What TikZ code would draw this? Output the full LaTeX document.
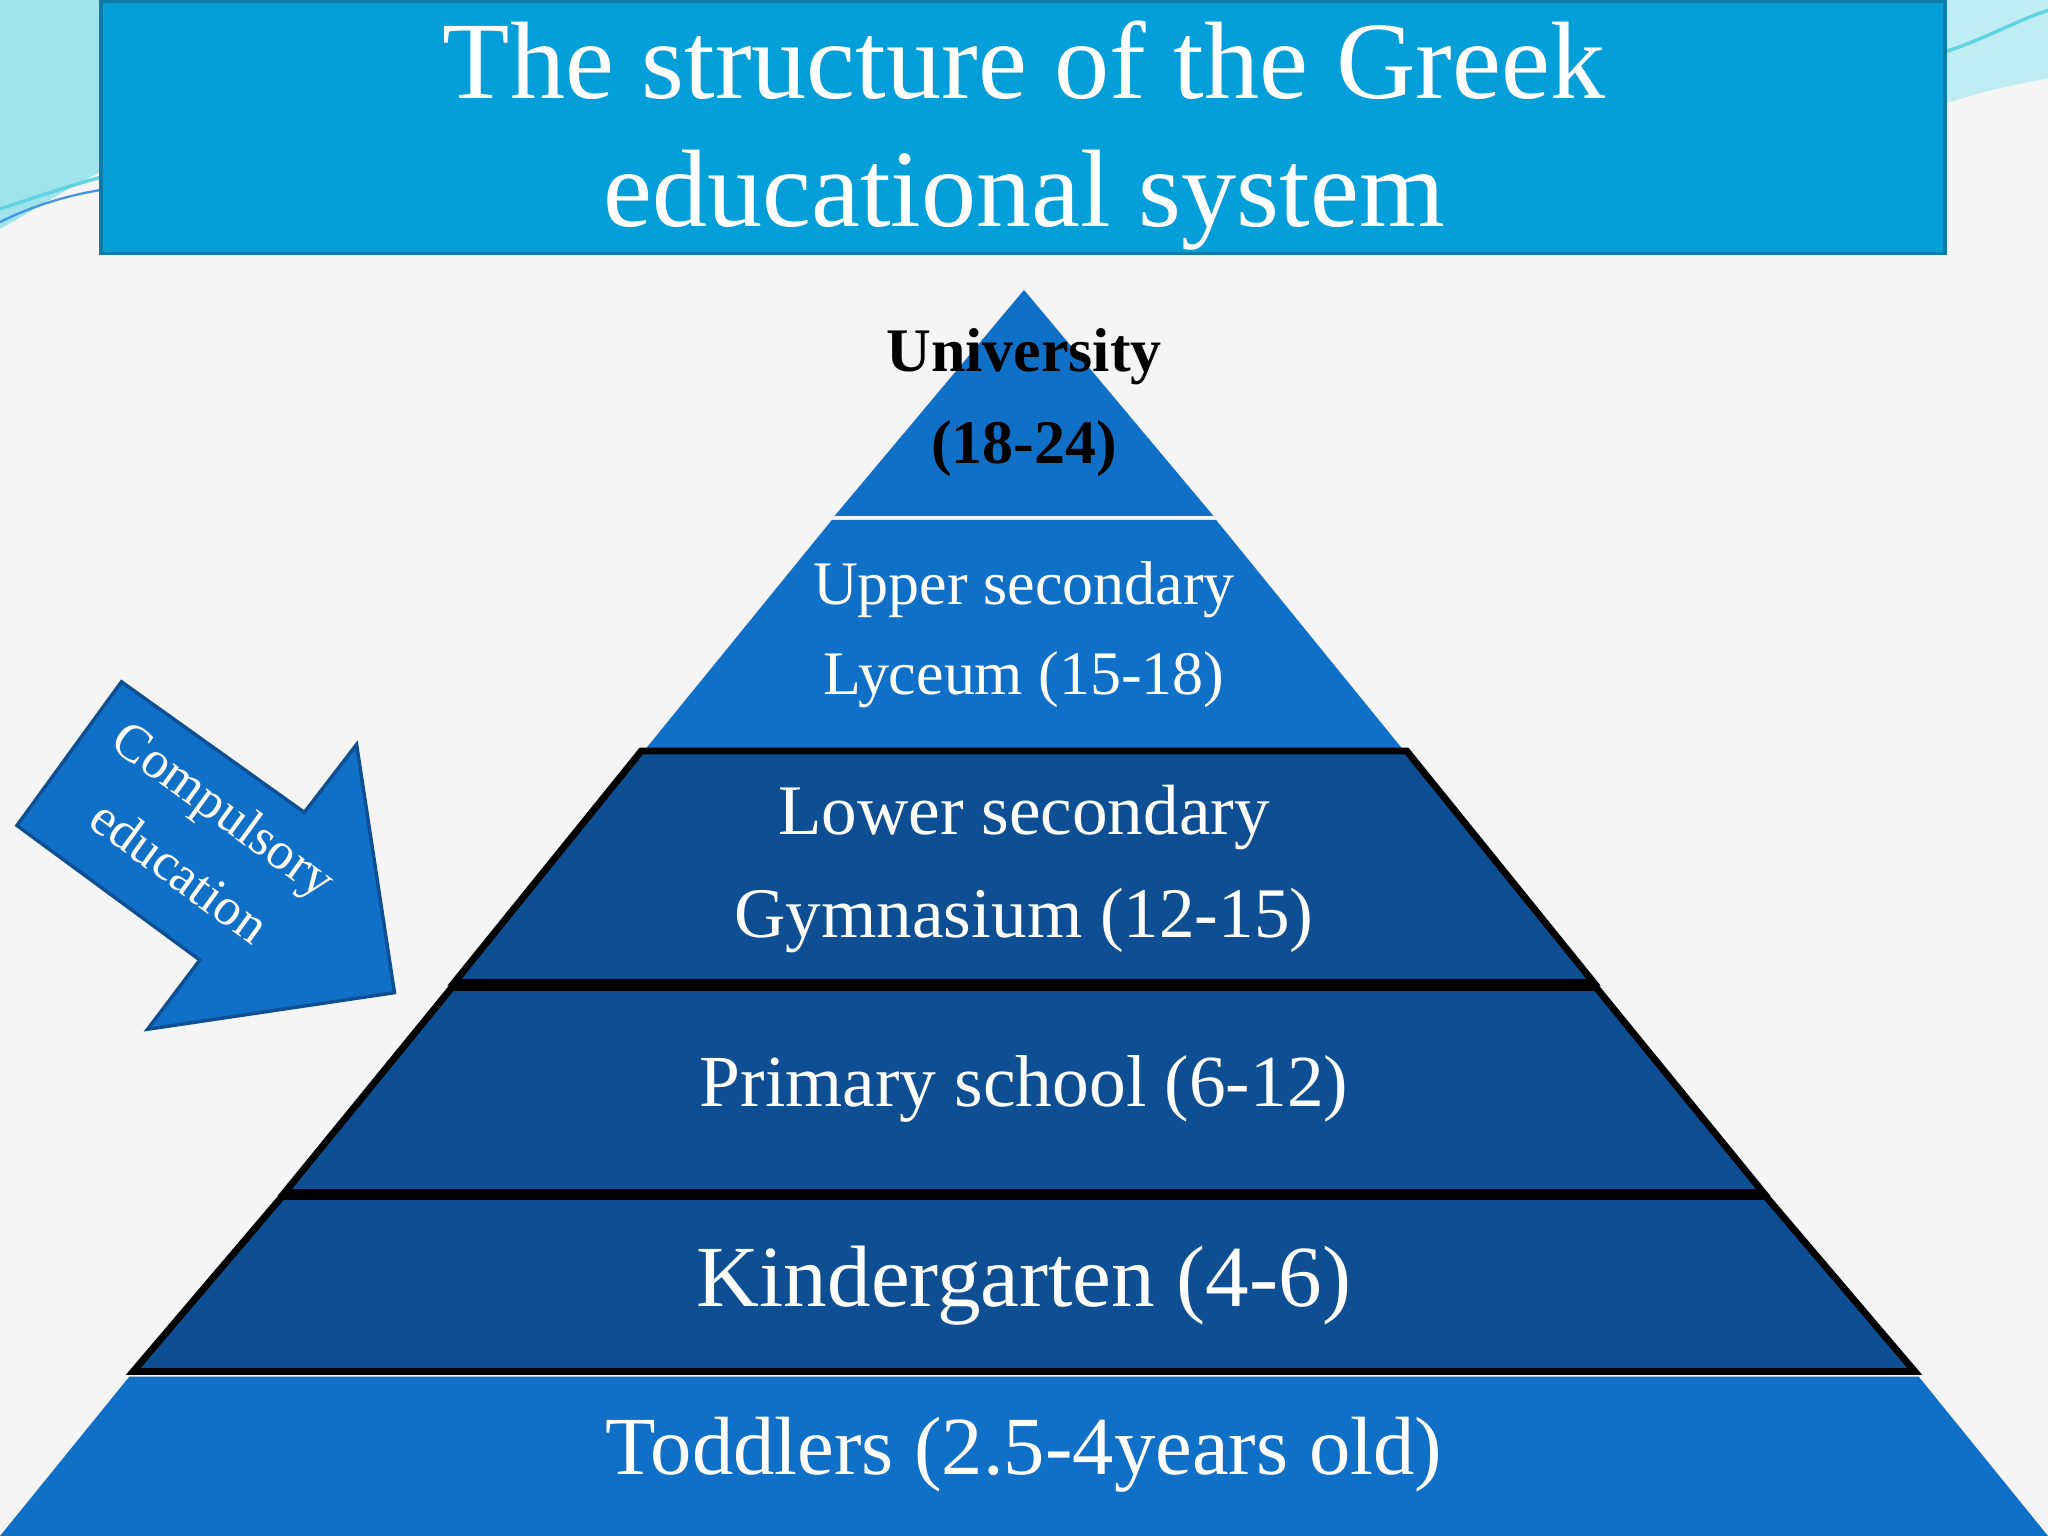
\documentclass[tikz,border=0pt]{standalone}
\usepackage{fontspec}
\setmainfont{Liberation Serif}
\definecolor{bg}{HTML}{F5F5F5}
\definecolor{titlec}{HTML}{049ED8}
\definecolor{titleb}{HTML}{0F7BA8}
\definecolor{lightb}{HTML}{106FC7}
\definecolor{darkb}{HTML}{0E4F93}
\definecolor{teal}{HTML}{5FD3E0}
\tikzset{lab/.style={text=white,align=center,font=\fontsize{#1}{\dimexpr#1pt*145/100\relax}\selectfont}}
\begin{document}
\begin{tikzpicture}[x=0.02cm,y=-0.02cm]
\fill[bg] (0,0) rectangle (1568,1176);
\useasboundingbox (0,0) rectangle (1568,1176);
% decorations
\fill[teal!60] (0,0) -- (80,0) -- (80,130) .. controls (40,150) and (20,165) .. (0,175) -- cycle;
\draw[teal,line width=1.5] (0,160) .. controls (30,150) and (60,140) .. (80,135);
\draw[teal!70!blue,line width=1] (0,170) .. controls (30,155) and (60,148) .. (80,145);
\fill[teal!40] (1488,0) -- (1568,0) -- (1568,60) .. controls (1540,65) and (1510,72) .. (1488,80) -- cycle;
\draw[teal,line width=1.5] (1488,40) .. controls (1520,30) and (1545,15) .. (1568,8);
% title
\node[draw=titleb,line width=1.5,fill=titlec,minimum width=28.24cm,minimum height=3.86cm,anchor=north west,inner sep=0] (title) at (76,0) {};
\node[text=white,align=center,font=\fontsize{48}{56}\selectfont] (tt) at (784,104) {The structure of the Greek\\educational system};
% pyramid bands
\fill[lightb] (784,222) -- (929,395) -- (639,395) -- cycle;
\fill[lightb] (637,398) -- (931,398) -- (1075,575) -- (493,575) -- cycle;
\fill[darkb,draw=black,line width=3] (491,575) -- (1077,575) -- (1220,752) -- (348,752) -- cycle;
\fill[darkb,draw=black,line width=3] (346,756) -- (1222,756) -- (1350,913) -- (218,913) -- cycle;
\fill[darkb,draw=black,line width=3] (216,916) -- (1352,916) -- (1466,1050) -- (102,1050) -- cycle;
\fill[lightb] (99,1054) -- (1469,1054) -- (1568,1176) -- (0,1176) -- cycle;
% labels
\node[align=center,font=\bfseries\fontsize{27}{40}\selectfont] (uni) at (784,308) {University\\(18-24)};
\node[lab=27] (up) at (784,486) {Upper secondary\\Lyceum (15-18)};
\node[lab=31] (low) at (784,665) {Lower secondary\\Gymnasium (12-15)};
\node[lab=32] (prim) at (784,834) {Primary school (6-12)};
\node[lab=38] (kin) at (784,984) {Kindergarten (4-6)};
\node[lab=36] (tod) at (784,1114) {Toddlers (2.5-4years old)};
% arrow
\fill[lightb,draw=darkb,line width=1.5] (93,522) -- (233,622) -- (273,570) -- (302,760) -- (113,788) -- (153,735) -- (13,632) -- cycle;
\node[lab=23,rotate=-36] (comp) at (155,643) {Compulsory\\education};
\end{tikzpicture}
\end{document}
